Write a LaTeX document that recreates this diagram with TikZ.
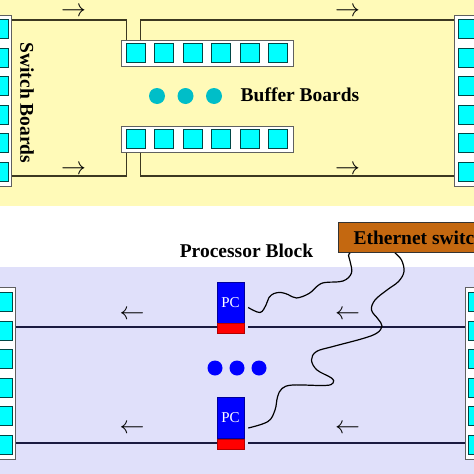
\documentclass[tikz,border=0pt]{standalone}
\usepackage{fontspec}
\setmainfont{Liberation Serif}
\usepackage{tikz}
\usetikzlibrary{calc,positioning}
\definecolor{boardbg}{RGB}{255,250,184}
\definecolor{blockbg}{RGB}{224,224,250}
\definecolor{ethbrown}{RGB}{196,104,16}
\definecolor{dotcyan}{RGB}{0,190,200}
\definecolor{slotcyan}{RGB}{0,255,255}
\definecolor{wireolive}{RGB}{60,56,32}
\definecolor{wirenavy}{RGB}{26,26,64}
\newcommand{\slotcolor}{slotcyan}
\newcommand{\wirewidth}{1.3pt}
\newcommand{\slotsize}{19pt}

\begin{document}
\begin{tikzpicture}[x=1pt,y=-1pt,
  board/.style={draw=gray!75!black, fill=white, line width=1pt, inner sep=0pt},
  slot/.style={draw=teal!55!black, fill=\slotcolor, line width=1pt, minimum size=\slotsize, inner sep=0pt},
  lbl/.style={font=\fontsize{19.5}{20}\selectfont\bfseries, inner sep=0pt},
  flow/.style={font=\fontsize{26}{26}\selectfont, inner sep=0pt},
  pc/.style={fill=blue, draw=blue!60!black, minimum width=27pt, minimum height=41pt, inner sep=0pt, text=white, font=\fontsize{15}{15}\selectfont},
  pcbase/.style={fill=red, draw=red!70!black, minimum width=27pt, minimum height=10pt, inner sep=0pt},
  cable/.style={draw=black, line width=1.2pt},
  topwire/.style={draw=wireolive, line width=\wirewidth},
  botwire/.style={draw=wirenavy, line width=\wirewidth}]
\useasboundingbox (0,0) rectangle (474,474);
\clip (0,0) rectangle (474,474);
\fill[boardbg] (0,0) rectangle (474,206);
\fill[blockbg] (0,267) rectangle (474,474);
%switch boards, top
\node[board, minimum width=21pt, minimum height=171pt] (swL) at (0.5,100.5) {};
\node[slot] (swL1) at (-1.5,29) {};
\node[slot] (swL2) at (-1.5,57.5) {};
\node[slot] (swL3) at (-1.5,86) {};
\node[slot] (swL4) at (-1.5,114.5) {};
\node[slot] (swL5) at (-1.5,143) {};
\node[slot] (swL6) at (-1.5,171.5) {};
\node[board, minimum width=22pt, minimum height=171pt] (swR) at (465,100.5) {};
\node[slot] (swR1) at (467.5,29) {};
\node[slot] (swR2) at (467.5,57.5) {};
\node[slot] (swR3) at (467.5,86) {};
\node[slot] (swR4) at (467.5,114.5) {};
\node[slot] (swR5) at (467.5,143) {};
\node[slot] (swR6) at (467.5,171.5) {};
%buffer boards
\node[board, minimum width=172pt, minimum height=26pt] (bufA) at (207,53) {};
\node[slot] (bufA1) at (135.5,52.5) {};
\node[slot] (bufA2) at (164,52.5) {};
\node[slot] (bufA3) at (192.5,52.5) {};
\node[slot] (bufA4) at (221,52.5) {};
\node[slot] (bufA5) at (249.5,52.5) {};
\node[slot] (bufA6) at (278,52.5) {};
\node[board, minimum width=172pt, minimum height=26pt] (bufB) at (207,139) {};
\node[slot] (bufB1) at (135.5,138.5) {};
\node[slot] (bufB2) at (164,138.5) {};
\node[slot] (bufB3) at (192.5,138.5) {};
\node[slot] (bufB4) at (221,138.5) {};
\node[slot] (bufB5) at (249.5,138.5) {};
\node[slot] (bufB6) at (278,138.5) {};
\node[circle, fill=dotcyan, minimum size=16pt, inner sep=0pt] (dotA1) at (157,96) {};
\node[circle, fill=dotcyan, minimum size=16pt, inner sep=0pt] (dotA2) at (185.5,96) {};
\node[circle, fill=dotcyan, minimum size=16pt, inner sep=0pt] (dotA3) at (214,96) {};
\node[lbl] (buflbl) at (300,95) {Buffer Boards};
\node[lbl, rotate=-90] (swlbl) at (27,103) {Switch Boards};
%top wiring
\draw[topwire] (swL.east |- 0,20) -| ($(bufA.north west)+(6,0)$);
\draw[topwire] ($(bufA.north west)+(20,0)$) |- (swR.west |- 0,20);
\draw[topwire] (swL.east |- 0,176) -| ($(bufB.south west)+(6,0)$);
\draw[topwire] ($(bufB.south west)+(20,0)$) |- (swR.west |- 0,176);
\node[flow] (fA1) at (73.5,12) {$\rightarrow$};
\node[flow] (fA2) at (347.5,12) {$\rightarrow$};
\node[flow] (fB1) at (73.5,170) {$\rightarrow$};
\node[flow] (fB2) at (347.5,170) {$\rightarrow$};
%processor block
\node[lbl] (proclbl) at (246.5,250.5) {Processor Block};
\node[lbl, fill=ethbrown, draw=black!80, line width=1pt, anchor=north west, minimum height=30pt, inner xsep=15pt] (eth) at (338,222) {Ethernet switch};
\node[board, minimum width=21pt, minimum height=172pt] (pswL) at (5,373) {};
\node[slot] (pswL1) at (2.5,302) {};
\node[slot] (pswL2) at (2.5,330.5) {};
\node[slot] (pswL3) at (2.5,359) {};
\node[slot] (pswL4) at (2.5,387.5) {};
\node[slot] (pswL5) at (2.5,416) {};
\node[slot] (pswL6) at (2.5,444.5) {};
\node[board, minimum width=21pt, minimum height=172pt] (pswR) at (475.5,373) {};
\node[slot] (pswR1) at (478,302) {};
\node[slot] (pswR2) at (478,330.5) {};
\node[slot] (pswR3) at (478,359) {};
\node[slot] (pswR4) at (478,387.5) {};
\node[slot] (pswR5) at (478,416) {};
\node[slot] (pswR6) at (478,444.5) {};
\node[pc] (pc1) at (230.5,302.5) {PC};
\node[pcbase, below=0pt of pc1] (pc1b) {};
\node[pc] (pc2) at (230.5,418) {PC};
\node[pcbase, below=0pt of pc2] (pc2b) {};
\node[circle, fill=blue, minimum size=15pt, inner sep=0pt] (dotB1) at (215,368) {};
\node[circle, fill=blue, minimum size=15pt, inner sep=0pt] (dotB2) at (237,368) {};
\node[circle, fill=blue, minimum size=15pt, inner sep=0pt] (dotB3) at (259,368) {};
\draw[botwire] (pswL.east |- 0,327) -- (pc1b.west |- 0,327);
\draw[botwire] ($(pc1b.east |- 0,327)+(4,0)$) -- (pswR.west |- 0,327);
\draw[botwire] (pswL.east |- 0,443) -- (pc2b.west |- 0,443);
\draw[botwire] ($(pc2b.east |- 0,443)+(4,0)$) -- (pswR.west |- 0,443);
\node[flow] (fC1) at (132,315) {$\leftarrow$};
\node[flow] (fC2) at (347.5,315) {$\leftarrow$};
\node[flow] (fD1) at (132,429) {$\leftarrow$};
\node[flow] (fD2) at (347.5,429) {$\leftarrow$};
%cables
\draw[cable] plot[smooth, tension=0.6] coordinates {($(pc1.east)+(4,5)$) (260,312.5) (266,305) (269,297.5) (274,293.5) (281,292.5) (288,294.5) (296.5,298) (309,293.5) (318,285.5) (325,282.5) (343,281) (351.5,273) (350,261) (348.5,255.5) ($(eth.south west)+(12,0)$)};
\draw[cable] plot[smooth, tension=0.6] coordinates {($(pc2.east)+(4,10)$) (268,421.5) (275,410) (277.5,397) (282,388.5) (293,385) (325,385.5) (333,383) (331.5,378) (317,370) (311.5,360) (316.5,351.5) (333,346.5) (363,338.5) (377,333) (382,326) (378,319) (371.5,310) (375,300) (387,290) (398.5,281.5) (404,271.5) (401.5,260) ($(eth.south west)+(57,0)$)};
\end{tikzpicture}
\end{document}
